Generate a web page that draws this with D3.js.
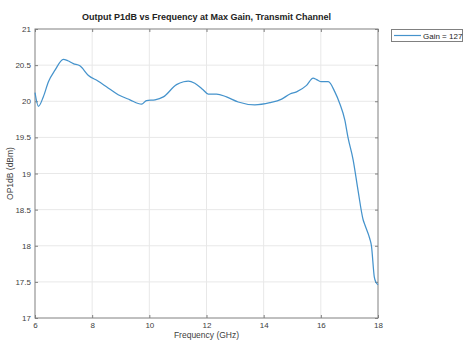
<!DOCTYPE html>
<html><head><meta charset="utf-8">
<script src="https://cdn.jsdelivr.net/npm/d3@7"></script>
<style>body{margin:0;background:#fff}svg{display:block}text{font-family:"Liberation Sans",Arial,sans-serif}</style>
</head><body><svg id="c" width="474" height="346"></svg>
<script>
const title = "Output P1dB vs Frequency at Max Gain, Transmit Channel";
const xLabel = "Frequency (GHz)";
const yLabel = "OP1dB (dBm)";
const seriesName = "Gain = 127";
const xTicks = [6, 8, 10, 12, 14, 16, 18];
const yTicks = [17, 17.5, 18, 18.5, 19, 19.5, 20, 20.5, 21];
const freq = [6.0, 6.12, 6.29, 6.47, 6.7, 6.99, 7.15, 7.34, 7.57, 7.86, 8.2, 8.5, 8.91, 9.32, 9.73, 9.9, 10.2, 10.49, 10.95, 11.2, 11.36, 11.59, 11.88, 12.06, 12.35, 12.7, 13.11, 13.69, 14.22, 14.63, 14.92, 15.15, 15.5, 15.73, 15.85, 16.02, 16.26, 16.49, 16.66, 16.84, 16.95, 17.13, 17.30, 17.48, 17.54, 17.71, 17.77, 17.87, 17.92, 18.0];
const op1db = [20.12, 19.93, 20.06, 20.27, 20.43, 20.58, 20.56, 20.52, 20.49, 20.36, 20.28, 20.2, 20.09, 20.02, 19.96, 20.01, 20.02, 20.06, 20.23, 20.27, 20.28, 20.25, 20.16, 20.10, 20.10, 20.06, 19.99, 19.95, 19.98, 20.03, 20.10, 20.13, 20.22, 20.32, 20.30, 20.27, 20.27, 20.13, 19.97, 19.74, 19.5, 19.19, 18.77, 18.36, 18.29, 18.1, 18.0, 17.57, 17.5, 17.46];

const L = 35, R = 378, T = 29, B = 318;
const svg = d3.select("#c");
const x = d3.scaleLinear().domain([6, 18]).range([L, R]);
const y = d3.scaleLinear().domain([17, 21]).range([B, T]);
const axisCol = "#808080", textCol = "#404040", gridCol = "#e8e8e8";
const lineCol = "#4593cc";

// grid
svg.append("g").selectAll("line").data(xTicks.slice(1, -1)).join("line")
  .attr("x1", d => x(d)).attr("x2", d => x(d)).attr("y1", T).attr("y2", B)
  .attr("stroke", gridCol).attr("stroke-width", 1);
svg.append("g").selectAll("line").data(yTicks.slice(1, -1)).join("line")
  .attr("y1", d => y(d)).attr("y2", d => y(d)).attr("x1", L).attr("x2", R)
  .attr("stroke", gridCol).attr("stroke-width", 1);

// axes
function styleAxis(g) {
  g.select(".domain").remove();
  g.selectAll(".tick line").attr("stroke", axisCol);
  g.selectAll(".tick text").attr("fill", textCol).style("font-size", "8px");
}
svg.append("g").attr("transform", `translate(0,${B})`)
  .call(d3.axisBottom(x).tickValues(xTicks).tickSizeInner(-3).tickSizeOuter(0).tickPadding(4).tickFormat(d3.format("d")))
  .call(styleAxis);
svg.append("g").attr("transform", `translate(0,${T})`)
  .call(d3.axisTop(x).tickValues(xTicks).tickSizeInner(-3).tickSizeOuter(0).tickFormat(""))
  .call(styleAxis);
svg.append("g").attr("transform", `translate(${L},0)`)
  .call(d3.axisLeft(y).tickValues(yTicks).tickSizeInner(-3).tickSizeOuter(0).tickPadding(4).tickFormat(d => d3.format("")(d)))
  .call(styleAxis);
svg.append("g").attr("transform", `translate(${R},0)`)
  .call(d3.axisRight(y).tickValues(yTicks).tickSizeInner(-3).tickSizeOuter(0).tickFormat(""))
  .call(styleAxis);

svg.append("rect").attr("x", L).attr("y", T).attr("width", R - L).attr("height", B - T)
  .attr("fill", "none").attr("stroke", axisCol).attr("stroke-width", 1);

// line
const data = freq.map((f, i) => [f, op1db[i]]);
svg.append("path").datum(data)
  .attr("d", d3.line().x(d => x(d[0])).y(d => y(d[1])).curve(d3.curveMonotoneX))
  .attr("fill", "none").attr("stroke", lineCol).attr("stroke-width", 1.25);

// labels
svg.append("text").attr("x", (L + R) / 2).attr("y", 20).attr("text-anchor", "middle")
  .style("font-size", "9px").style("font-weight", "bold").attr("fill", "#222").text(title);
svg.append("text").attr("x", (L + R) / 2).attr("y", 338).attr("text-anchor", "middle")
  .style("font-size", "8.5px").attr("fill", textCol).text(xLabel);
svg.append("text").attr("transform", `translate(13,${(T + B) / 2}) rotate(-90)`).attr("text-anchor", "middle")
  .style("font-size", "8.5px").attr("fill", textCol).text(yLabel);

// legend
const lg = svg.append("g");
lg.append("rect").attr("x", 391.5).attr("y", 29.5).attr("width", 71).attr("height", 12)
  .attr("fill", "#fff").attr("stroke", axisCol);
lg.append("line").attr("x1", 394).attr("x2", 421).attr("y1", 35.5).attr("y2", 35.5)
  .attr("stroke", lineCol).attr("stroke-width", 1.2);
lg.append("text").attr("x", 423).attr("y", 38.5).style("font-size", "8px").attr("fill", "#222").text(seriesName);
</script></body></html>
